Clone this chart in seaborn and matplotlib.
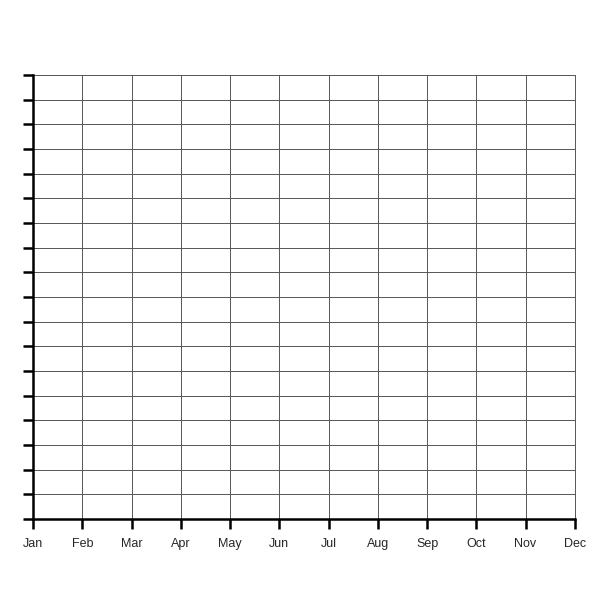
import numpy as np
import pandas as pd
import seaborn as sns
import matplotlib
matplotlib.use("Agg")
import matplotlib.pyplot as plt

# Months on the x axis, empty grid rows on the y axis
months = ["Jan", "Feb", "Mar", "Apr", "May", "Jun",
          "Jul", "Aug", "Sep", "Oct", "Nov", "Dec"]
y_ticks = list(range(0, 19))
values = [np.nan] * len(months)

sns.set_style("white")
plt.rcParams["font.family"] = ["Liberation Sans", "DejaVu Sans"]

fig = plt.figure(figsize=(6, 6), dpi=100)
ax = fig.add_axes([0.055, 0.135, 0.903, 0.74])

df = pd.DataFrame({"month": range(len(months)), "value": values})
sns.lineplot(data=df, x="month", y="value", ax=ax)

ax.set_xlim(0, len(months) - 1)
ax.set_ylim(y_ticks[0], y_ticks[-1])
ax.set_xticks(range(len(months)))
ax.set_xticklabels(months)
ax.set_yticks(y_ticks)
ax.set_yticklabels([])
ax.set_xlabel("")
ax.set_ylabel("")

ax.grid(True, color="#555555", linewidth=0.7)
for gl in ax.get_xgridlines() + ax.get_ygridlines():
    gl.set_clip_on(False)
ax.set_axisbelow(True)
sns.despine(ax=ax, top=True, right=True)
for side in ["left", "bottom"]:
    ax.spines[side].set_linewidth(1.8)
    ax.spines[side].set_color("black")
    ax.spines[side].set_zorder(3)

ax.tick_params(axis="both", direction="out", length=7.5, width=1.8,
               color="black", labelsize=9, pad=6)
ax.tick_params(axis="x", bottom=True)
ax.tick_params(axis="y", left=True)

fig.savefig("out.png", dpi=100, facecolor="white")
